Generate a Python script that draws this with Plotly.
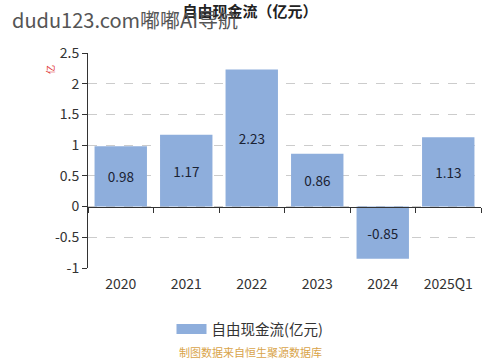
import plotly.graph_objects as go

categories = ["2020", "2021", "2022", "2023", "2024", "2025Q1"]
values = [0.98, 1.17, 2.23, 0.86, -0.85, 1.13]
value_labels = ["0.98", "1.17", "2.23", "0.86", "-0.85", "1.13"]
series_name = "自由现金流(亿元)"
title_text = "自由现金流（亿元）"
y_ticks = [-1, -0.5, 0, 0.5, 1, 1.5, 2, 2.5]
y_tick_text = ["-1", "-0.5", "0", "0.5", "1", "1.5", "2", "2.5"]

FONT = "Noto Sans CJK SC, Noto Sans, sans-serif"
BAR = "#8eaedc"

fig = go.Figure()
fig.add_trace(go.Bar(
    x=categories, y=values, name=series_name, showlegend=False,
    marker=dict(color=BAR, line=dict(width=0)),
    text=value_labels, textposition="inside", insidetextanchor="middle",
    textfont=dict(size=13.5, color="#1a2233", family=FONT),
))
# legend entry (wide swatch like the reference)
fig.add_trace(go.Scatter(x=[None], y=[None], mode="lines", name=series_name,
                         line=dict(color=BAR, width=12), showlegend=True))
# helper trace for the zero-line axis with boundary ticks
fig.add_trace(go.Scatter(x=categories, y=[0]*len(categories), xaxis="x2",
                         mode="markers", marker=dict(opacity=0),
                         showlegend=False, hoverinfo="skip"))

ymin, ymax = -1, 2.5
zero_pos = (0 - ymin) / (ymax - ymin)

fig.update_layout(
    width=500, height=360,
    margin=dict(l=88, r=19, t=53, b=92, autoexpand=False),
    paper_bgcolor="white", plot_bgcolor="white",
    bargap=0.2,
    font=dict(family=FONT, size=12, color="#333"),
    showlegend=True,
    legend=dict(orientation="h", x=0.5 + (250-284.5)/393, xanchor="center",
                y=(268-329)/215, yanchor="middle",
                font=dict(size=14.5, color="#333")),
    title=dict(text="<b>" + title_text + "</b>", x=0.5, xanchor="center",
               y=1 - 12/360, yanchor="middle", font=dict(size=15, color="#222")),
    xaxis=dict(type="category", showgrid=False, showline=False,
               ticks="outside", ticklen=3, tickcolor="rgba(0,0,0,0)",
               tickfont=dict(size=14, color="#333")),
    xaxis2=dict(type="category", overlaying="x", anchor="free", position=zero_pos,
                side="bottom", showticklabels=False, showline=True, linecolor="#333",
                linewidth=1, ticks="outside", tickson="boundaries", ticklen=5,
                tickcolor="#333", showgrid=False, matches="x"),
    yaxis=dict(range=[ymin, ymax], tickvals=y_ticks, ticktext=y_tick_text,
               showgrid=True, gridcolor="#cccccc", griddash="dash", gridwidth=1,
               showline=True, linecolor="#333", linewidth=1,
               ticks="outside", ticklen=5, tickcolor="#333",
               zeroline=False, tickfont=dict(size=14, color="#333")),
)

fig.add_annotation(text="dudu123.com嘟嘟AI导航", xref="paper", yref="paper",
                   x=(10-88)/393, y=(268-20)/215, xanchor="left", yanchor="middle",
                   showarrow=False, font=dict(size=20, color="#555", family=FONT))
fig.add_annotation(text="亿", xref="paper", yref="paper", textangle=-90,
                   x=(50-88)/393, y=(268-70)/215, xanchor="center", yanchor="middle",
                   showarrow=False, font=dict(size=9, color="#e03030", family=FONT))
fig.add_annotation(text="制图数据来自恒生聚源数据库", xref="paper", yref="paper",
                   x=0.5 + (250-284.5)/393, y=(268-352)/215, xanchor="center",
                   yanchor="middle", showarrow=False,
                   font=dict(size=11, color="#d9a44a", family=FONT))

fig.write_html("out.html", config={"displayModeBar": False},
               post_script="document.body.style.margin='0';")
